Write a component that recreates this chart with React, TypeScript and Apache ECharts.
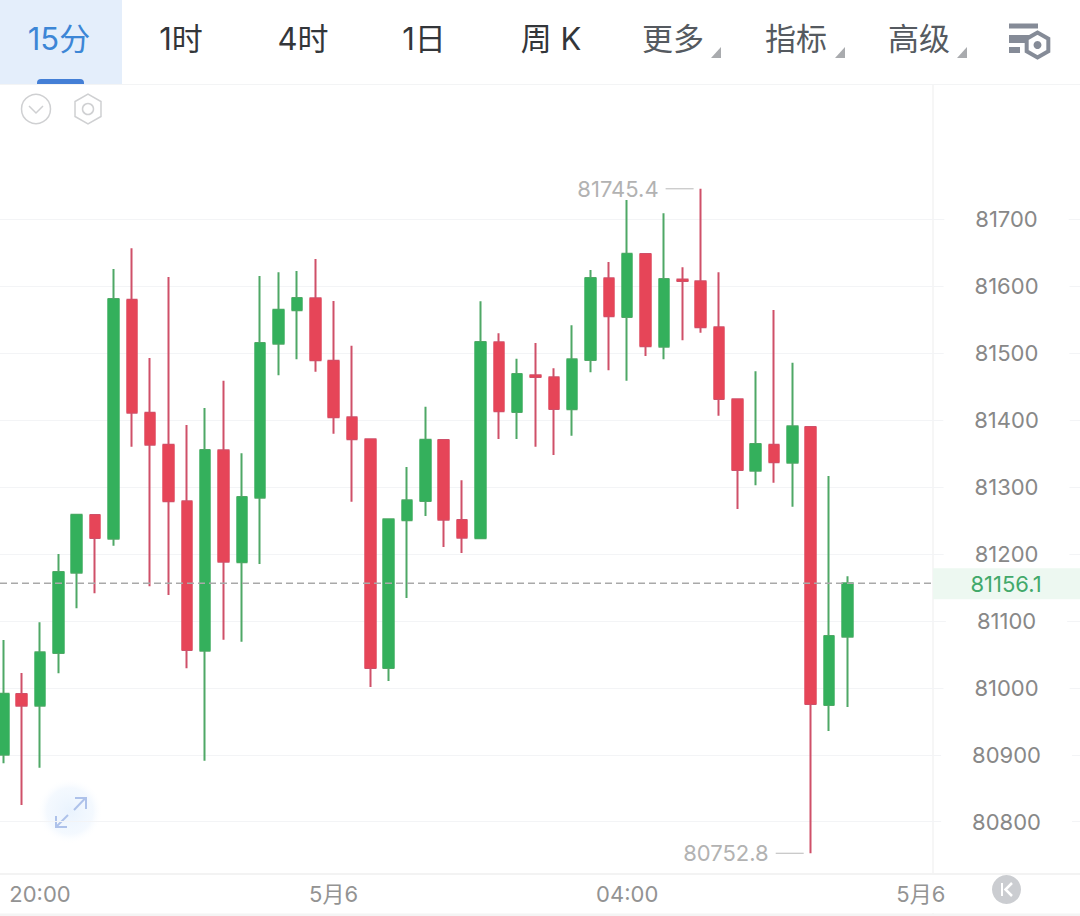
import React, { useEffect, useRef } from "react";
import * as echarts from "echarts";

const categories = [
  "19:30","19:45","20:00","20:15","20:30","20:45","21:00","21:15","21:30","21:45",
  "22:00","22:15","22:30","22:45","23:00","23:15","23:30","23:45","5月6","00:15",
  "00:30","00:45","01:00","01:15","01:30","01:45","02:00","02:15","02:30","02:45",
  "03:00","03:15","03:30","03:45","04:00","04:15","04:30","04:45","05:00","05:15",
  "05:30","05:45","06:00","06:15","06:30","06:45","07:00","07:15","07:30","07:45",
  "5月6","08:15","08:30","08:45","09:00","09:15","09:30","09:45","10:00","10:15",
];
const opens = [80900.1,80990.7,80973.3,81052,81171.9,81258.1,81222.7,81579.7,81410.9,81363.1,81278.6,81055.4,81354.8,81187.5,81284,81514,81563.9,81581.8,81488.6,81404,81371.2,81029.6,81250.2,81279,81370.1,81250.6,81223.3,81516.1,81412,81466.8,81463.8,81416,81489.6,81611.7,81553.9,81648,81509.5,81609.7,81607.2,81538.5,81431,81324.3,81363.1,81336.2,81389.6,80974.3,81076.3];
const closes = [80991.2,80973.3,81053,81173,81258.6,81223.8,81580.8,81410.9,81363.1,81278.6,81056.5,81355.2,81188.4,81285,81515,81564.8,81582.2,81489.2,81404,81371.2,81029.6,81251.7,81280.1,81370.6,81251.1,81224.2,81516.5,81413,81468.7,81464.3,81416.4,81490.7,81612.1,81554.9,81648.4,81510.1,81610.6,81607.6,81538.5,81431.4,81325.3,81364.2,81336.8,81390.6,80975.8,81077.4,81156.1];
const lows = [80887.2,80824.9,80880.7,81021.7,81118.8,81141.2,81212.3,81360.1,81151.6,81138.6,81029.1,80891.1,81071.9,81068.9,81184.9,81466.8,81490.7,81472.2,81379.6,81278,81001.2,81010.2,81134.1,81256.6,81210.3,81201.4,81223.3,81371.6,81371.6,81360.1,81347.7,81376.6,81471.3,81474.3,81458.7,81495.6,81490.7,81519,81530.4,81406.4,81267.1,81302.5,81306.4,81270.5,80752.8,80935.5,80971.3];
const highs = [81071.4,81022.1,81097.9,81199.9,81258.6,81258.1,81625.6,81656.5,81492.6,81613.6,81392.6,81417.9,81458.7,81350.3,81615.1,81620.6,81622.6,81640.5,81577.8,81511,81371.2,81251.7,81329.8,81419.9,81370.1,81310,81577.3,81529.5,81491.6,81515,81477.2,81541.5,81624,81636,81728.6,81648,81708.8,81628.1,81745.4,81620.6,81431,81472.8,81564.3,81485.6,81389.6,81316.4,81166.6];
const lastPrice = 81156.1;
const extremes = [[38, 81745.4], [44, 80752.8]];
const tabs = [
  { t: "15分", x: 59 }, { t: "1时", x: 181 }, { t: "4时", x: 303 }, { t: "1日", x: 424 },
  { t: "周 K", x: 551 }, { t: "更多", x: 673 }, { t: "指标", x: 796 }, { t: "高级", x: 919 },
];
const FONT = 'Inter, "Noto Sans CJK SC", sans-serif';
const GREEN = "#34b05c", RED = "#e64558", GREEN_W = "#4fa866", RED_W = "#cf5069";
const OFF = 20; // chart canvas starts 20px left of the page so the first candle can be cut off
const CANVAS_W = 1140; // wider than the page: the grid runs past the right edge and is clipped

function hex(cx: number, cy: number, r: number) {
  const pts: number[][] = [];
  for (let i = 0; i < 6; i++) {
    const a = Math.PI / 6 + (i * Math.PI) / 3;
    pts.push([cx + r * Math.cos(a), cy + r * Math.sin(a)]);
  }
  return pts;
}

function App() {
  const ref = useRef<HTMLDivElement>(null);
  useEffect(() => {
    document.body.style.margin = "0";
    const chart = echarts.init(ref.current!, null, { renderer: "svg" });
    const line = (x1: number, y1: number, x2: number, y2: number, stroke: string, lineWidth = 2) => ({
      type: "line", shape: { x1, y1, x2, y2 }, style: { stroke, lineWidth }, silent: true,
    });
    const tri = (r: number, b: number) => ({
      type: "polygon", shape: { points: [[r, b - 11], [r, b], [r - 10, b]] }, style: { fill: "#a9abae" },
    });
    const graphics: any[] = [
      { type: "rect", shape: { x: 0, y: 0, width: 122, height: 84.5 }, style: { fill: "#e4eefb" } },
      { type: "rect", shape: { x: 37, y: 79, width: 47, height: 5.5, r: [4, 4, 0, 0] }, style: { fill: "#447fd6" } },
      line(0, 84.5, 1080, 84.5, "#f3f4f5", 1),
      line(933, 84.5, 933, 874, "#f3f3f3", 1.5),
      line(933, 913, 933, 916, "#f3f3f3", 1.5),
      line(0, 874, 1080, 874, "#f3f3f3", 2),
      { type: "rect", shape: { x: 0, y: 913.5, width: 1080, height: 3 }, style: { fill: "#f4f4f4" } },
      ...tabs.map((b, i) => ({
        type: "text", x: b.x, y: 38.5,
        style: {
          text: b.t, fontFamily: FONT, fontSize: 31, textAlign: "center", textVerticalAlign: "middle",
          fill: i === 0 ? "#3c86d6" : i > 4 ? "#555a60" : "#33363a",
        },
      })),
      tri(721, 58), tri(845, 58), tri(967, 58),
      { type: "rect", shape: { x: 1009, y: 23.5, width: 29, height: 5 }, style: { fill: "#858b97" } },
      { type: "rect", shape: { x: 1009, y: 35, width: 20, height: 8 }, style: { fill: "#858b97" } },
      { type: "rect", shape: { x: 1009, y: 47, width: 11, height: 6 }, style: { fill: "#858b97" } },
      { type: "polygon", shape: { points: hex(1037.5, 45, 12.5) }, style: { fill: "#fff", stroke: "#858b97", lineWidth: 4 } },
      { type: "circle", shape: { cx: 1037.5, cy: 45, r: 4 }, style: { fill: "#858b97" } },
      { type: "circle", shape: { cx: 36, cy: 109, r: 14.5 }, style: { fill: "#fff", stroke: "#cfd0d2", lineWidth: 1.5 } },
      { type: "polyline", shape: { points: [[29, 106], [36, 113], [43, 106]] }, style: { stroke: "#cfd0d2", lineWidth: 1.5, fill: "none" } },
      { type: "polygon", shape: { points: hex(88, 109, 15) }, style: { fill: "#fff", stroke: "#cfd0d2", lineWidth: 1.5 } },
      { type: "circle", shape: { cx: 88, cy: 109, r: 5.5 }, style: { fill: "#fff", stroke: "#cfd0d2", lineWidth: 1.5 } },
      {
        type: "circle", shape: { cx: 70, cy: 811, r: 33 },
        style: { fill: new echarts.graphic.RadialGradient(0.5, 0.5, 0.5, [
          { offset: 0, color: "rgba(228,240,253,0.8)" }, { offset: 0.7, color: "rgba(235,244,254,0.55)" }, { offset: 1, color: "rgba(255,255,255,0)" },
        ]) },
      },
      line(74, 810, 85.5, 798, "#aec2ea"),
      { type: "polyline", shape: { points: [[75, 798], [86, 798], [86, 809]] }, style: { stroke: "#aec2ea", lineWidth: 2, fill: "none" } },
      line(56.5, 826.5, 68, 815, "#aec2ea"),
      { type: "polyline", shape: { points: [[56, 816], [56, 827], [67, 827]] }, style: { stroke: "#aec2ea", lineWidth: 2, fill: "none" } },
      { type: "circle", shape: { cx: 1006.5, cy: 889.5, r: 14.5 }, style: { fill: "#cbcdd1" } },
      line(1002, 883, 1002, 896, "#fff"),
      { type: "polyline", shape: { points: [[1012, 883], [1005.5, 889.5], [1012, 896]] }, style: { stroke: "#fff", lineWidth: 2.5, fill: "none" } },
    ];
    chart.setOption({
      animation: false,
      backgroundColor: "#fff",
      grid: { left: OFF - 5.87, top: 152.2, width: 1101, height: 736.45, containLabel: false },
      xAxis: {
        type: "category", data: categories, boundaryGap: true,
        axisLine: { show: false }, axisTick: { show: false }, splitLine: { show: false },
        axisLabel: {
          interval: (i: number) => (i - 2) % 16 === 0,
          margin: -6, color: "#939393", fontSize: 22, fontFamily: FONT, hideOverlap: false,
        },
      },
      yAxis: {
        type: "value", position: "right", min: 80700, max: 81800, interval: 100, scale: true,
        axisLine: { show: false }, axisTick: { show: false },
        splitLine: { show: true, showMinLine: false, showMaxLine: false, lineStyle: { color: "#f3f4f6", width: 1 } },
        axisLabel: {
          inside: true, margin: 88.6, align: "center", color: "#888888", fontSize: 22, fontFamily: FONT,
          showMinLabel: false, showMaxLabel: false, backgroundColor: "#fff", padding: [0, 31, 0, 31],
          formatter: (v: number) => String(v),
        },
      },
      series: [
        {
          type: "candlestick", barWidth: 10, silent: true,
          itemStyle: { color: GREEN_W, color0: RED_W, borderColor: GREEN_W, borderColor0: RED_W, borderWidth: 2 },
          data: opens.map((o, i) => [o, closes[i], lows[i], highs[i]]),
        },
        {
          type: "candlestick", barWidth: 12, silent: true,
          itemStyle: { color: GREEN, color0: RED, borderColor: GREEN, borderColor0: RED, borderWidth: 0 },
          data: opens.map((o, i) => [o, closes[i], Math.min(o, closes[i]), Math.max(o, closes[i])]),
        },
        {
          type: "custom", silent: true, z: 5,
          data: [[0, lastPrice]], encode: { x: 0, y: 1 },
          renderItem: (_p: any, api: any) => {
            const y = api.coord([0, api.value(1)])[1];
            return {
              type: "group",
              children: [
                { type: "line", shape: { x1: OFF, y1: y, x2: OFF + 933, y2: y }, style: { stroke: "#a9a9a9", lineWidth: 1.6, lineDash: [7, 4] } },
                { type: "rect", shape: { x: OFF + 933, y: y - 15, width: 147, height: 31 }, style: { fill: "#edf8f1" } },
                { type: "text", x: OFF + 1006, y: y + 1, style: { text: lastPrice.toFixed(1), fontFamily: FONT, fontSize: 22, fill: "#42a96a", textAlign: "center", textVerticalAlign: "middle" } },
              ],
            };
          },
        },
        {
          type: "custom", silent: true, z: 5,
          data: extremes, encode: { x: 0, y: 1 },
          renderItem: (_p: any, api: any) => {
            const c = api.coord([api.value(0), api.value(1)]);
            return {
              type: "group",
              children: [
                { type: "line", shape: { x1: c[0] - 35, y1: c[1], x2: c[0] - 7, y2: c[1] }, style: { stroke: "#c4c4c4", lineWidth: 1.2 } },
                { type: "text", x: c[0] - 42, y: c[1], style: { text: api.value(1).toFixed(1), fontFamily: FONT, fontSize: 22, fill: "#b2b2b2", textAlign: "right", textVerticalAlign: "middle" } },
              ],
            };
          },
        },
      ],
      graphic: [{ type: "group", x: OFF, y: 0, children: graphics }],
    });
    return () => chart.dispose();
  }, []);
  return (
    <div style={{ position: "absolute", left: 0, top: 0, width: 1080, height: 916, overflow: "hidden" }}>
      <div ref={ref} style={{ position: "absolute", left: -OFF, top: 0, width: CANVAS_W, height: 916 }} />
    </div>
  );
}

export default App;
